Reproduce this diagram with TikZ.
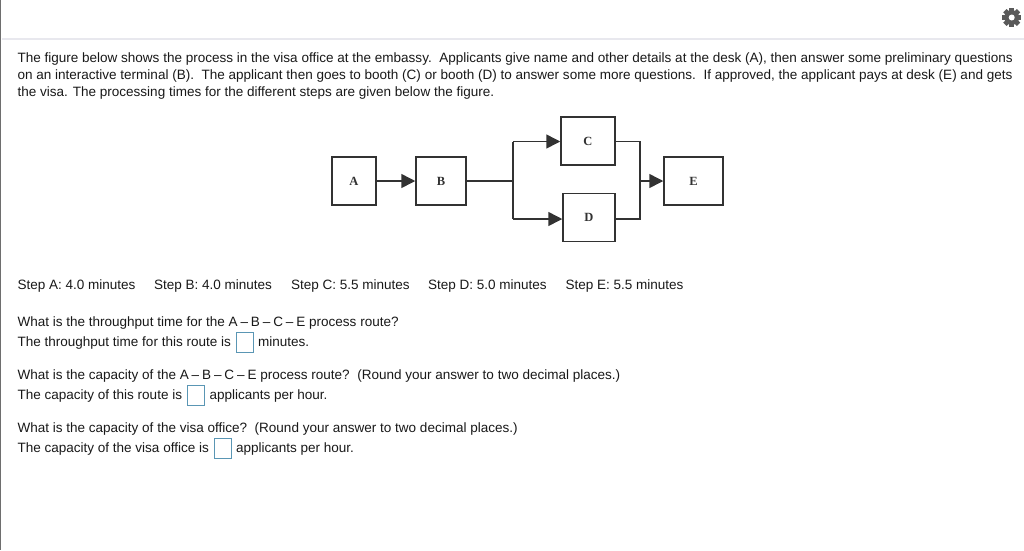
\documentclass[tikz,border=0pt]{standalone}
\usepackage{fontspec}
\setmainfont{Liberation Sans}
\newfontfamily\serifbold{Liberation Serif}
\usetikzlibrary{arrows.meta}
\definecolor{txt}{RGB}{25,25,25}
\definecolor{rulec}{RGB}{232,232,238}
\definecolor{gearc}{RGB}{90,90,90}
\definecolor{edgec}{RGB}{110,110,110}
\definecolor{inbox}{RGB}{90,150,180}
\definecolor{boxc}{RGB}{50,50,50}
\newcommand{\dsh}{\hspace{2.9pt}–\hspace{2.9pt}}
\tikzset{
  line/.style={anchor=base west,inner sep=0pt,outer sep=0pt,text=txt,font=\fontsize{13.52}{15}\selectfont},
  flow/.style={draw=boxc,line width=1.5pt,fill=white,inner sep=0pt,font=\serifbold\bfseries\fontsize{12.5}{14}\selectfont,text=boxc},
  wire/.style={draw=boxc,line width=1.5pt},
  arrowwire/.style={wire,-{Triangle[length=14pt,width=14pt]}},
  answer/.style={draw=inbox,line width=0.9pt,fill=white,minimum width=17pt,minimum height=20pt,inner sep=0pt}
}
\begin{document}
\begin{tikzpicture}[x=1pt,y=-1pt]
\useasboundingbox (0,0) rectangle (1024,550);
\fill[white] (0,0) rectangle (1024,550);
\fill[edgec] (0,0) rectangle (1.3,550);
\fill[rulec] (2,37.5) rectangle (1024,39.5);
% gear
\begin{scope}[shift={(1011.7,17.5)}]
\foreach \a in {0,45,...,315}{\fill[gearc,rotate=\a] (-2.4,-9.6) rectangle (2.4,0);}
\fill[gearc] (0,0) circle (7.4);
\fill[white] (0,0) circle (3);
\end{scope}
% text
\node[line] (t1) at (17.5,62) {The figure below shows the process in the visa office at the embassy.\ \ Applicants give name and other details at the desk (A), then answer some preliminary questions};
\node[line] (t2) at (17.5,79) {on an interactive terminal (B).\ \ The applicant then goes to booth (C) or booth (D) to answer some more questions.\ \ If approved, the applicant pays at desk (E) and gets};
\node[line] (t3) at (17.5,96) {the visa. The processing times for the different steps are given below the figure.};
% diagram
\node[flow,minimum width=44pt,minimum height=48pt] (A) at (354,181) {A};
\node[flow,minimum width=50pt,minimum height=48pt] (B) at (441,181) {B};
\node[flow,minimum width=54pt,minimum height=48pt] (C) at (588,141) {C};
\node[flow,minimum width=52pt,minimum height=48pt] (D) at (589,217.5) {D};
\node[flow,minimum width=59pt,minimum height=48pt] (E) at (693.5,181) {E};
\coordinate (jl) at (513,181);
\coordinate (jr) at (640,181);
\coordinate (jlc) at (513,141.5);
\coordinate (jld) at (513,219);
\coordinate (jrc) at (640,141.5);
\coordinate (jrd) at (640,219);
\draw[arrowwire] (A.east) -- (B.west);
\draw[wire] (B.east) -- (jl);
\draw[wire] (jld) -- (jlc);
\draw[arrowwire] (jlc) -- (jlc -| C.west);
\draw[arrowwire] (jld) -- (jld -| D.west);
\draw[wire] (jrc -| C.east) -- (jrc) -- (jrd) -- (jrd -| D.east);
\draw[arrowwire] (jr) -- (E.west);
% steps
\node[line] (s1) at (17.5,289) {Step A: 4.0 minutes};
\node[line] (s2) at (154,289) {Step B: 4.0 minutes};
\node[line] (s3) at (291,289) {Step C: 5.5 minutes};
\node[line] (s4) at (428,289) {Step D: 5.0 minutes};
\node[line] (s5) at (565.5,289) {Step E: 5.5 minutes};
% questions
\node[line] (q1) at (17.5,326) {What is the throughput time for the A\dsh B\dsh C\dsh E process route?};
\node[line] (a1) at (17.5,346) {The throughput time for this route is};
\node[answer] (b1) at (245,342) {};
\node[line] (u1) at (258,346) {minutes.};
\node[line] (q2) at (17.5,379) {What is the capacity of the A\dsh B\dsh C\dsh E process route?\ \ (Round your answer to two decimal places.)};
\node[line] (a2) at (17.5,399) {The capacity of this route is};
\node[answer] (b2) at (196,395) {};
\node[line] (u2) at (209.5,399) {applicants per hour.};
\node[line] (q3) at (17.5,432) {What is the capacity of the visa office?\ \ (Round your answer to two decimal places.)};
\node[line] (a3) at (17.5,452) {The capacity of the visa office is};
\node[answer] (b3) at (222.5,448) {};
\node[line] (u3) at (236,452) {applicants per hour.};
\end{tikzpicture}
\end{document}
